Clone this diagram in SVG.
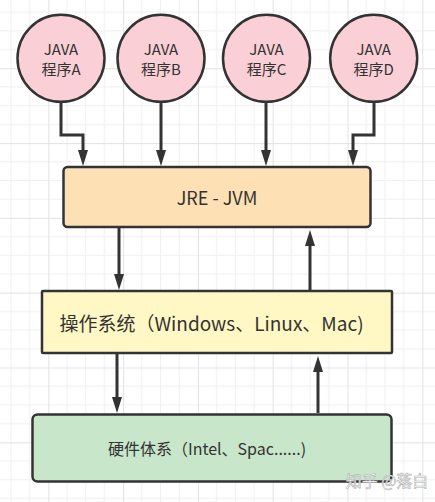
<svg xmlns="http://www.w3.org/2000/svg" width="435" height="502" viewBox="0 0 435 502">
<style>
text{font-family:"Noto Sans CJK SC","Liberation Sans",sans-serif;fill:#333;}
.circ{fill:#fad0d6;stroke:#333;stroke-width:2.5;}
.box{stroke:#333;stroke-width:2.5;}
.conn{fill:none;stroke:#333;stroke-width:3;}
.ct{font-size:15px;text-anchor:middle;}
</style>
<defs>
<pattern id="grid" patternUnits="userSpaceOnUse" x="-26.5" y="-6.5" width="74.8" height="74.8">
<path d="M18.7,0V74.8M37.4,0V74.8M56.1,0V74.8M0,18.7H74.8M0,37.4H74.8M0,56.1H74.8" stroke="#f0f0f0" stroke-width="1" fill="none"/>
<path d="M0.5,0V74.8M0,0.5H74.8" stroke="#e2e2e2" stroke-width="1" fill="none"/>
</pattern>
<marker id="arr" markerUnits="userSpaceOnUse" markerWidth="17" markerHeight="12" refX="1" refY="5.5" orient="auto">
<path d="M0,0.5 L16,5.5 L0,10.5 z" fill="#333"/>
</marker>
</defs>
<rect width="435" height="502" fill="#fff"/>
<rect width="435" height="502" fill="url(#grid)"/>

<g id="connectors">
<path class="conn" d="M61,102 V135 H83 V151" marker-end="url(#arr)"/>
<path class="conn" d="M161,102 V151" marker-end="url(#arr)"/>
<path class="conn" d="M266,102 V151" marker-end="url(#arr)"/>
<path class="conn" d="M374,102 V135 H353 V151" marker-end="url(#arr)"/>
<path class="conn" d="M119,228 V275" marker-end="url(#arr)"/>
<path class="conn" d="M310,290 V245" marker-end="url(#arr)"/>
<path class="conn" d="M117,354 V398" marker-end="url(#arr)"/>
<path class="conn" d="M318,413 V371" marker-end="url(#arr)"/>
</g>

<g id="progA">
<circle class="circ" cx="61" cy="58.3" r="43.5"/>
<text class="ct" x="61" y="55">JAVA</text>
<text class="ct" x="61" y="75">程序A</text>
</g>
<g id="progB">
<circle class="circ" cx="161" cy="58.3" r="43.5"/>
<text class="ct" x="161" y="55">JAVA</text>
<text class="ct" x="161" y="75">程序B</text>
</g>
<g id="progC">
<circle class="circ" cx="266.5" cy="58.3" r="43.5"/>
<text class="ct" x="266.5" y="55">JAVA</text>
<text class="ct" x="266.5" y="75">程序C</text>
</g>
<g id="progD">
<circle class="circ" cx="373.7" cy="58.3" r="43.5"/>
<text class="ct" x="373.7" y="55">JAVA</text>
<text class="ct" x="373.7" y="75">程序D</text>
</g>

<g id="jre">
<rect class="box" x="63.5" y="167" width="307" height="60" rx="4" fill="#fde0b4"/>
<text x="217" y="205" font-size="18" text-anchor="middle">JRE - JVM</text>
</g>
<g id="os">
<rect class="box" x="42" y="291" width="350" height="62" rx="1" fill="#fff8c4"/>
<text x="211.5" y="330.5" font-size="19" text-anchor="middle">操作系统（Windows、Linux、Mac)</text>
</g>
<g id="hw">
<rect class="box" x="32.5" y="414.5" width="359" height="67" rx="5" fill="#c8e6c9"/>
<text x="207" y="454.5" font-size="16" text-anchor="middle">硬件体系（Intel、Spac......)</text>
</g>

<text x="387" y="487" font-size="16" text-anchor="middle" style="fill:#fff;stroke:#b0b0b0;stroke-width:0.6;">知乎 @落白</text>
</svg>
